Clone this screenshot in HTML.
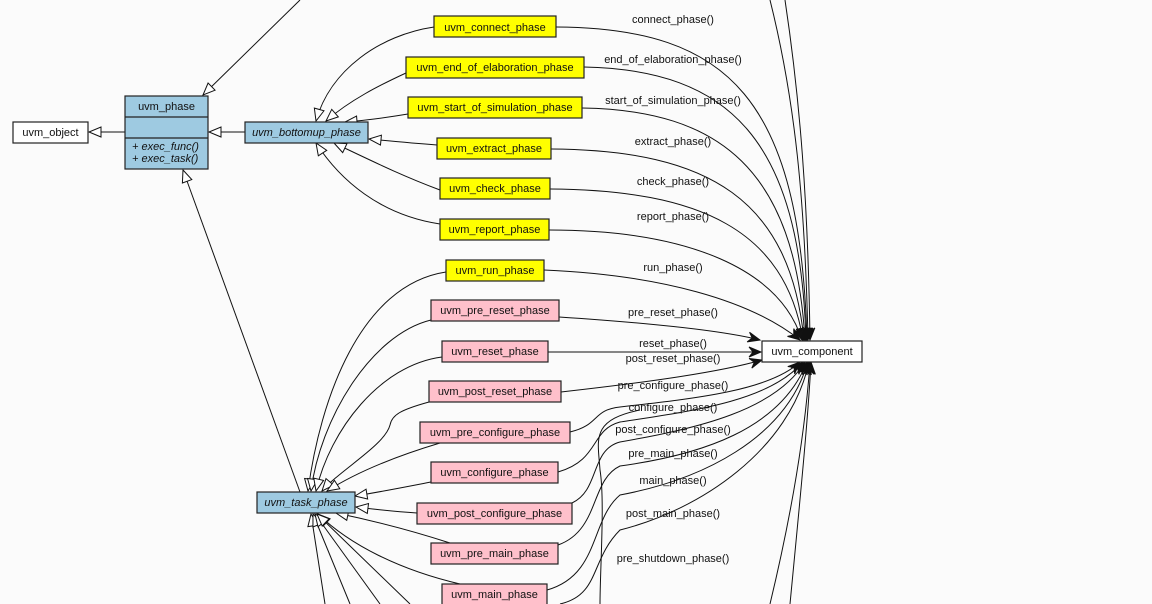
<!DOCTYPE html>
<html><head><meta charset="utf-8"><style>
html,body{margin:0;padding:0;background:#fbfbfb;}
svg{display:block;}
text{font-family:"Liberation Sans",sans-serif;font-size:11px;fill:#111;}
.b{stroke:#222;stroke-width:1.2;}
.e{fill:none;stroke:#111;stroke-width:1;}
</style></head><body>
<svg width="1152" height="604" viewBox="0 0 1152 604" xmlns="http://www.w3.org/2000/svg">
<defs>
<marker id="h" markerWidth="14" markerHeight="12" refX="13" refY="6" orient="auto" markerUnits="userSpaceOnUse">
<path d="M1,1 L13,6 L1,11 Z" fill="#fff" stroke="#111" stroke-width="1"/></marker>
<marker id="a" markerWidth="14" markerHeight="12" refX="13" refY="6" orient="auto" markerUnits="userSpaceOnUse">
<path d="M1,1 L13,6 L1,11 L5,6 Z" fill="#111" stroke="#111" stroke-width="1"/></marker>
</defs>

<!-- inheritance edges -->
<path class="e" d="M300,0 L203,95" marker-end="url(#h)"/>
<path class="e" d="M125,132 L89,132" marker-end="url(#h)"/>
<path class="e" d="M245,132 L209,132" marker-end="url(#h)"/>
<path class="e" d="M300,492 L183,170" marker-end="url(#h)"/>
<!-- yellow -> bottomup -->
<path class="e" d="M434,27 C380,35 330,70 316,121" marker-end="url(#h)"/>
<path class="e" d="M406,73 C380,85 350,100 326,121" marker-end="url(#h)"/>
<path class="e" d="M408,114 C390,117 370,120 345,122" marker-end="url(#h)"/>
<path class="e" d="M437,145 C410,143 390,141 369,139" marker-end="url(#h)"/>
<path class="e" d="M440,190 C400,175 370,160 334,143" marker-end="url(#h)"/>
<path class="e" d="M440,224 C380,215 340,180 316,143" marker-end="url(#h)"/>
<!-- to task phase from above -->
<path class="e" d="M446,272 C360,285 320,400 308,491" marker-end="url(#h)"/>
<path class="e" d="M431,320 C370,335 320,420 311,491" marker-end="url(#h)"/>
<path class="e" d="M442,357 C380,365 330,430 316,491" marker-end="url(#h)"/>
<path class="e" d="M429,402 C400,410 392,415 390,425 C385,445 340,470 322,491" marker-end="url(#h)"/>
<path class="e" d="M440,443 C400,455 360,470 327,491" marker-end="url(#h)"/>
<path class="e" d="M431,482 C400,488 380,492 355,496" marker-end="url(#h)"/>
<path class="e" d="M417,513 C400,512 380,510 356,507" marker-end="url(#h)"/>
<path class="e" d="M450,543 C410,530 370,520 336,513" marker-end="url(#h)"/>
<path class="e" d="M460,584 C400,570 350,545 318,514" marker-end="url(#h)"/>
<path class="e" d="M325,604 L311,514" marker-end="url(#h)"/>
<path class="e" d="M350,604 L313,514" marker-end="url(#h)"/>
<path class="e" d="M380,604 L315,514" marker-end="url(#h)"/>
<path class="e" d="M410,604 L317,514" marker-end="url(#h)"/>

<!-- edges to component -->
<path class="e" d="M770,0 C795,100 805,200 808,340" marker-end="url(#a)"/>
<path class="e" d="M785,0 C800,100 808,200 810,340" marker-end="url(#a)"/>
<path class="e" d="M556,27 C730,28 800,100 807,340" marker-end="url(#a)"/>
<path class="e" d="M584,67 C730,70 800,140 806,340" marker-end="url(#a)"/>
<path class="e" d="M582,108 C720,110 795,170 805,340" marker-end="url(#a)"/>
<path class="e" d="M551,149 C710,150 790,200 804,340" marker-end="url(#a)"/>
<path class="e" d="M550,189 C700,190 785,230 803,340" marker-end="url(#a)"/>
<path class="e" d="M549,230 C690,230 780,270 802,340" marker-end="url(#a)"/>
<path class="e" d="M544,270 C660,275 750,300 800,340" marker-end="url(#a)"/>
<path class="e" d="M559,317 C650,323 720,330 760,340" marker-end="url(#a)"/>
<path class="e" d="M548,352 L761,352" marker-end="url(#a)"/>
<path class="e" d="M561,392 C650,382 720,372 762,360" marker-end="url(#a)"/>
<path class="e" d="M570,432 C600,425 592,410 620,407 C700,398 770,390 800,362" marker-end="url(#a)"/>
<path class="e" d="M558,472 C600,460 590,430 620,422 C700,410 770,400 803,362" marker-end="url(#a)"/>
<path class="e" d="M572,503 C600,490 590,450 620,442 C700,428 775,410 805,362" marker-end="url(#a)"/>
<path class="e" d="M558,545 C600,530 590,480 620,466 C700,455 780,430 807,362" marker-end="url(#a)"/>
<path class="e" d="M547,590 C600,575 590,520 620,495 C700,480 785,440 808,362" marker-end="url(#a)"/>
<path class="e" d="M560,604 C600,595 590,560 620,530 C700,510 790,450 809,362" marker-end="url(#a)"/>
<path class="e" d="M600,604 C600,570 605,500 600,470 C598,440 590,420 640,410" />
<path class="e" d="M790,604 C800,500 808,420 811,362" marker-end="url(#a)"/>
<path class="e" d="M770,604 C795,500 806,420 810,362" marker-end="url(#a)"/>

<!-- edge labels -->
<text x="673" y="23" text-anchor="middle">connect_phase()</text>
<text x="673" y="63" text-anchor="middle">end_of_elaboration_phase()</text>
<text x="673" y="104" text-anchor="middle">start_of_simulation_phase()</text>
<text x="673" y="145" text-anchor="middle">extract_phase()</text>
<text x="673" y="185" text-anchor="middle">check_phase()</text>
<text x="673" y="220" text-anchor="middle">report_phase()</text>
<text x="673" y="271" text-anchor="middle">run_phase()</text>
<text x="673" y="316" text-anchor="middle">pre_reset_phase()</text>
<text x="673" y="347" text-anchor="middle">reset_phase()</text>
<text x="673" y="362" text-anchor="middle">post_reset_phase()</text>
<text x="673" y="389" text-anchor="middle">pre_configure_phase()</text>
<text x="673" y="411" text-anchor="middle">configure_phase()</text>
<text x="673" y="433" text-anchor="middle">post_configure_phase()</text>
<text x="673" y="457" text-anchor="middle">pre_main_phase()</text>
<text x="673" y="484" text-anchor="middle">main_phase()</text>
<text x="673" y="517" text-anchor="middle">post_main_phase()</text>
<text x="673" y="562" text-anchor="middle">pre_shutdown_phase()</text>

<!-- nodes -->
<rect class="b" x="13" y="122" width="75" height="21" fill="#fff"/>
<text x="50.5" y="136" text-anchor="middle">uvm_object</text>
<rect class="b" x="125" y="96" width="83" height="73" fill="#9ecae1"/>
<line class="b" x1="125" y1="117" x2="208" y2="117"/>
<line class="b" x1="125" y1="138" x2="208" y2="138"/>
<text x="166.5" y="110" text-anchor="middle">uvm_phase</text>
<text x="132" y="150" font-style="italic">+ exec_func()</text>
<text x="132" y="162" font-style="italic">+ exec_task()</text>
<rect class="b" x="245" y="122" width="123" height="21" fill="#9ecae1"/>
<text x="306.5" y="136" text-anchor="middle" font-style="italic">uvm_bottomup_phase</text>
<rect class="b" x="257" y="492" width="98" height="21" fill="#9ecae1"/>
<text x="306" y="506" text-anchor="middle" font-style="italic">uvm_task_phase</text>
<rect class="b" x="762" y="341" width="100" height="21" fill="#fff"/>
<text x="812" y="355" text-anchor="middle">uvm_component</text>

<g fill="#ffff00">
<rect class="b" x="434" y="16" width="122" height="21"/>
<rect class="b" x="406" y="57" width="178" height="21"/>
<rect class="b" x="408" y="97" width="174" height="21"/>
<rect class="b" x="437" y="138" width="114" height="21"/>
<rect class="b" x="440" y="178" width="110" height="21"/>
<rect class="b" x="440" y="219" width="109" height="21"/>
<rect class="b" x="446" y="260" width="98" height="21"/>
</g>
<g fill="#ffc0cb">
<rect class="b" x="431" y="300" width="128" height="21"/>
<rect class="b" x="442" y="341" width="106" height="21"/>
<rect class="b" x="429" y="381" width="132" height="21"/>
<rect class="b" x="420" y="422" width="150" height="21"/>
<rect class="b" x="431" y="462" width="127" height="21"/>
<rect class="b" x="417" y="503" width="155" height="21"/>
<rect class="b" x="431" y="543" width="127" height="21"/>
<rect class="b" x="442" y="584" width="105" height="21"/>
</g>
<g text-anchor="middle">
<text x="495" y="31">uvm_connect_phase</text>
<text x="495" y="71">uvm_end_of_elaboration_phase</text>
<text x="495" y="111">uvm_start_of_simulation_phase</text>
<text x="494" y="152">uvm_extract_phase</text>
<text x="495" y="192">uvm_check_phase</text>
<text x="494.5" y="233">uvm_report_phase</text>
<text x="495" y="274">uvm_run_phase</text>
<text x="495" y="314">uvm_pre_reset_phase</text>
<text x="495" y="355">uvm_reset_phase</text>
<text x="495" y="395">uvm_post_reset_phase</text>
<text x="495" y="436">uvm_pre_configure_phase</text>
<text x="494.5" y="476">uvm_configure_phase</text>
<text x="494.5" y="517">uvm_post_configure_phase</text>
<text x="494.5" y="557">uvm_pre_main_phase</text>
<text x="494.5" y="598">uvm_main_phase</text>
</g>
</svg>
</body></html>
